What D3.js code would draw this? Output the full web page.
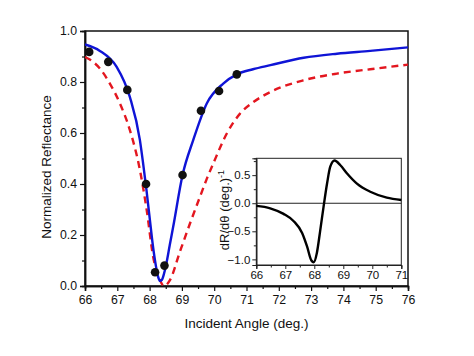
<!DOCTYPE html>
<html><head><meta charset="utf-8">
<script src="https://cdnjs.cloudflare.com/ajax/libs/d3/7.8.5/d3.min.js"></script>
<style>body{margin:0;background:#fff}svg{display:block}text{font-family:"Liberation Sans",Arial,sans-serif;fill:#111}</style>
</head><body>
<svg id="c" width="474" height="356"></svg>
<script>
// Main plot data
const xTicks = [66,67,68,69,70,71,72,73,74,75,76];
const yTicks = [0.0,0.2,0.4,0.6,0.8,1.0];
const measAngle = [66.13,66.72,67.31,67.89,68.17,68.46,69.02,69.59,70.15,70.70];
const measR     = [0.918,0.879,0.769,0.400,0.054,0.080,0.435,0.687,0.765,0.830];
const fitAngle = [66.0,66.46,66.98,67.39,67.7,67.8,67.9,68.01,68.1,68.2,68.26,68.32,68.38,68.45,68.53,68.62,68.73,69.02,69.35,69.77,70.28,70.7,71.2,71.74,72.77,73.8,74.83,76.0];
const fitR     = [0.947,0.922,0.859,0.741,0.572,0.48,0.38,0.258,0.16,0.075,0.038,0.02,0.024,0.05,0.095,0.158,0.232,0.435,0.572,0.716,0.794,0.83,0.85,0.866,0.895,0.911,0.922,0.936];
const refAngle = [66.0,66.15,66.46,66.77,67.08,67.39,67.7,67.91,68.11,68.3,68.45,68.63,68.94,69.25,69.56,69.77,69.97,70.39,70.8,71.2,71.74,72.77,73.8,74.83,76.0];
const refR     = [0.898,0.888,0.853,0.794,0.716,0.611,0.455,0.298,0.115,0.03,0.0,0.023,0.135,0.245,0.35,0.42,0.48,0.598,0.676,0.72,0.761,0.807,0.833,0.85,0.868];
// Inset data
const inXTicks = [66,67,68,69,70,71];
const inYTicks = [0.5,0.0,-0.5,-1.0];
const derivAngle = [66.0,66.48,66.94,67.29,67.58,67.75,67.9,67.98,68.09,68.2,68.32,68.44,68.55,68.7,68.9,69.13,69.47,69.93,70.5,71.0];
const derivVal   = [-0.048,-0.09,-0.19,-0.32,-0.53,-0.77,-1.02,-1.05,-0.88,-0.5,-0.06,0.35,0.65,0.76,0.676,0.53,0.35,0.205,0.1,0.058];

const svg = d3.select("#c");
const x = d3.scaleLinear().domain([66,76]).range([85,408]);
const y = d3.scaleLinear().domain([0,1]).range([286,31]);

// frame
svg.append("rect").attr("x",85).attr("y",31).attr("width",323).attr("height",255)
  .attr("fill","none").attr("stroke","#111").attr("stroke-width",1.5);

// axes
svg.append("g").attr("transform","translate(0,286)")
  .call(d3.axisBottom(x).tickValues(xTicks).tickFormat(d3.format("d")).tickSize(5).tickPadding(4));
svg.append("g").attr("transform","translate(0,286)")
  .call(d3.axisBottom(x).tickValues(d3.range(66.5,76,1)).tickFormat("").tickSize(3));
svg.append("g").attr("transform","translate(85,0)")
  .call(d3.axisLeft(y).tickValues(yTicks).tickFormat(d3.format(".1f")).tickSize(5).tickPadding(3));
svg.append("g").attr("transform","translate(85,0)")
  .call(d3.axisLeft(y).tickValues([0.1,0.3,0.5,0.7,0.9]).tickFormat("").tickSize(3));
svg.selectAll(".domain").attr("stroke","#111").attr("stroke-width",1.5);
svg.selectAll(".tick line").attr("stroke","#111").attr("stroke-width",1.2);
svg.selectAll(".tick text").style("font-size","12.3px").attr("fill","#111");

// curves
svg.append("clipPath").attr("id","clipMain").append("rect")
  .attr("x",85).attr("y",31).attr("width",323).attr("height",256);
const line = d3.line().curve(d3.curveMonotoneX);
svg.append("path").attr("clip-path","url(#clipMain)")
  .attr("d", line(refAngle.map((a,i)=>[x(a),y(refR[i])])))
  .attr("fill","none").attr("stroke","#e3161f").attr("stroke-width",2.4).attr("stroke-dasharray","7,5");
svg.append("path").attr("clip-path","url(#clipMain)")
  .attr("d", line(fitAngle.map((a,i)=>[x(a),y(fitR[i])])))
  .attr("fill","none").attr("stroke","#0f14d6").attr("stroke-width",2.4);
svg.append("g").selectAll("circle").data(measAngle).join("circle")
  .attr("cx",d=>x(d)).attr("cy",(d,i)=>y(measR[i])).attr("r",4.3).attr("fill","#111");

// labels
svg.append("text").attr("x",246.5).attr("y",328).attr("text-anchor","middle")
  .style("font-size","13.5px").text("Incident Angle (deg.)");
svg.append("text").attr("transform","translate(51,167) rotate(-90)").attr("text-anchor","middle")
  .style("font-size","13.5px").text("Normalized Reflectance");

// inset
const ix = d3.scaleLinear().domain([66,71]).range([256.3,401.3]);
const iy = d3.scaleLinear().domain([-1.1,0.8]).range([265,158.3]);
const inset = svg.append("g");
inset.append("rect").attr("x",256.3).attr("y",158.3).attr("width",145).attr("height",106.7)
  .attr("fill","#fff").attr("stroke","#222").attr("stroke-width",1);
inset.append("g").attr("transform","translate(0,265)")
  .call(d3.axisBottom(ix).tickValues(inXTicks).tickFormat(d3.format("d")).tickSize(4).tickPadding(2));
inset.append("g").attr("transform","translate(0,265)")
  .call(d3.axisBottom(ix).tickValues(d3.range(66.5,71,1)).tickFormat("").tickSize(2.5));
inset.append("g").attr("transform","translate(256.3,0)")
  .call(d3.axisLeft(iy).tickValues(inYTicks).tickFormat(d3.format(".1f")).tickSize(4).tickPadding(2));
inset.append("g").attr("transform","translate(256.3,0)")
  .call(d3.axisLeft(iy).tickValues([0.75,0.25,-0.25,-0.75]).tickFormat("").tickSize(2.5));
inset.selectAll(".domain").attr("stroke","#222").attr("stroke-width",1);
inset.selectAll(".tick line").attr("stroke","#222").attr("stroke-width",1);
inset.selectAll(".tick text").style("font-size","11.5px").attr("fill","#111");
inset.append("line").attr("x1",ix(66)).attr("x2",ix(71)).attr("y1",iy(0)).attr("y2",iy(0))
  .attr("stroke","#222").attr("stroke-width",1.2);
inset.append("path")
  .attr("d", d3.line().curve(d3.curveMonotoneX)(derivAngle.map((a,i)=>[ix(a),iy(derivVal[i])])))
  .attr("fill","none").attr("stroke","#000").attr("stroke-width",2.4);
const yl = inset.append("text").attr("transform","translate(229,210) rotate(-90)").attr("text-anchor","middle")
  .style("font-size","13px");
yl.append("tspan").text("dR/dθ (deg.)");
yl.append("tspan").attr("dy",-5).style("font-size","9px").text("-1");
</script>
</body></html>
